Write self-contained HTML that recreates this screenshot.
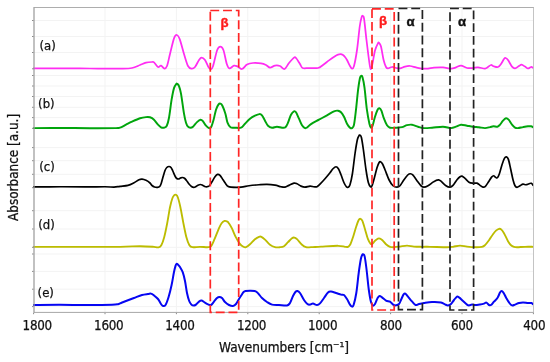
<!DOCTYPE html>
<html><head><meta charset="utf-8"><title>FTIR spectra</title>
<style>
html,body{margin:0;padding:0;background:#fff;}
body{width:550px;height:362px;position:relative;overflow:hidden;font-family:"DejaVu Sans Condensed","Liberation Sans",sans-serif;color:#111;}
.t{position:absolute;white-space:nowrap;line-height:1;-webkit-text-stroke:0.25px #111;}
.xl{font-size:13.3px;letter-spacing:-0.3px;}
.sl{font-size:13px;}
.gk{font-family:"Liberation Sans",sans-serif;font-weight:bold;font-size:13.2px;-webkit-text-stroke:0.4px currentColor;}
.ti{font-size:13.5px;}
.yr{font-size:13.4px;transform-origin:0 0;transform:rotate(-90deg);}
</style></head><body>
<svg width="550" height="362" viewBox="0 0 550 362" style="position:absolute;left:0;top:0">
<path d="M34.0 20.5H533.5M34.0 36.5H533.5M34.0 52.5H533.5M34.0 68.8H533.5M34.0 128.3H533.5M34.0 187.7H533.5M34.0 247.3H533.5M34.0 75.5H533.5M34.0 86.0H533.5M34.0 96.5H533.5M34.0 107.3H533.5M34.0 117.6H533.5M34.0 147.6H533.5M34.0 160.7H533.5M34.0 174.3H533.5M34.0 210.7H533.5M34.0 229.0H533.5M34.0 254.0H533.5M34.0 271.4H533.5M34.0 289.2H533.5M34.0 306.6H533.5M105.0 7.5V312.4M176.4 7.5V312.4M247.8 7.5V312.4M319.2 7.5V312.4M390.6 7.5V312.4M462.0 7.5V312.4" stroke="#f3f3f3" stroke-width="1" fill="none"/>
<path d="M33.00 68.40C37.50 68.38 50.50 68.28 60.00 68.30C69.50 68.32 80.00 68.45 90.00 68.50C100.00 68.55 113.00 68.68 120.00 68.60C127.00 68.52 128.67 68.60 132.00 68.00C135.33 67.40 137.67 65.90 140.00 65.00C142.33 64.10 144.00 63.10 146.00 62.60C148.00 62.10 150.67 62.03 152.00 62.00C153.33 61.97 153.00 61.57 154.00 62.40C155.00 63.23 156.83 66.47 158.00 67.00C159.17 67.53 159.93 65.33 161.00 65.60C162.07 65.87 163.40 68.53 164.40 68.60C165.40 68.67 166.07 68.43 167.00 66.00C167.93 63.57 168.83 58.60 170.00 54.00C171.17 49.40 172.87 41.57 174.00 38.40C175.13 35.23 175.83 34.83 176.80 35.00C177.77 35.17 178.60 36.23 179.80 39.40C181.00 42.57 182.63 49.57 184.00 54.00C185.37 58.43 186.73 63.57 188.00 66.00C189.27 68.43 190.43 68.43 191.60 68.60C192.77 68.77 193.77 68.43 195.00 67.00C196.23 65.57 197.90 61.57 199.00 60.00C200.10 58.43 200.60 57.60 201.60 57.60C202.60 57.60 203.83 58.37 205.00 60.00C206.17 61.63 207.63 65.85 208.60 67.40C209.57 68.95 210.07 69.50 210.80 69.30C211.53 69.10 211.93 69.42 213.00 66.20C214.07 62.98 215.97 53.27 217.20 50.00C218.43 46.73 219.37 46.60 220.40 46.60C221.43 46.60 222.33 47.10 223.40 50.00C224.47 52.90 225.80 60.93 226.80 64.00C227.80 67.07 228.20 68.13 229.40 68.40C230.60 68.67 232.67 65.93 234.00 65.60C235.33 65.27 236.07 65.83 237.40 66.40C238.73 66.97 240.40 69.30 242.00 69.00C243.60 68.70 245.17 65.60 247.00 64.60C248.83 63.60 250.67 63.20 253.00 63.00C255.33 62.80 258.83 63.07 261.00 63.40C263.17 63.73 264.50 64.30 266.00 65.00C267.50 65.70 268.50 67.50 270.00 67.60C271.50 67.70 273.33 65.87 275.00 65.60C276.67 65.33 278.40 65.43 280.00 66.00C281.60 66.57 283.10 69.50 284.60 69.00C286.10 68.50 287.43 64.90 289.00 63.00C290.57 61.10 292.83 58.43 294.00 57.60C295.17 56.77 295.00 56.93 296.00 58.00C297.00 59.07 298.90 62.33 300.00 64.00C301.10 65.67 301.10 67.33 302.60 68.00C304.10 68.67 306.43 68.00 309.00 68.00C311.57 68.00 315.67 68.50 318.00 68.00C320.33 67.50 321.17 66.27 323.00 65.00C324.83 63.73 327.00 61.87 329.00 60.40C331.00 58.93 333.50 57.17 335.00 56.20C336.50 55.23 337.08 54.95 338.00 54.60C338.92 54.25 339.67 54.03 340.50 54.10C341.33 54.17 342.25 54.52 343.00 55.00C343.75 55.48 344.33 56.17 345.00 57.00C345.67 57.83 346.17 58.50 347.00 60.00C347.83 61.50 349.17 64.57 350.00 66.00C350.83 67.43 351.33 68.60 352.00 68.60C352.67 68.60 353.17 69.10 354.00 66.00C354.83 62.90 356.03 56.67 357.00 50.00C357.97 43.33 359.02 31.50 359.80 26.00C360.58 20.50 361.22 18.67 361.70 17.00C362.18 15.33 362.30 15.67 362.70 16.00C363.10 16.33 363.47 15.00 364.10 19.00C364.73 23.00 365.68 33.17 366.50 40.00C367.32 46.83 368.32 55.17 369.00 60.00C369.68 64.83 370.03 68.33 370.60 69.00C371.17 69.67 371.67 67.10 372.40 64.00C373.13 60.90 374.07 53.87 375.00 50.40C375.93 46.93 377.33 44.47 378.00 43.20C378.67 41.93 378.50 42.23 379.00 42.80C379.50 43.37 380.23 43.73 381.00 46.60C381.77 49.47 382.77 56.60 383.60 60.00C384.43 63.40 385.27 65.60 386.00 67.00C386.73 68.40 387.00 68.40 388.00 68.40C389.00 68.40 390.67 67.07 392.00 67.00C393.33 66.93 394.67 67.77 396.00 68.00C397.33 68.23 398.50 68.63 400.00 68.40C401.50 68.17 403.33 67.00 405.00 66.60C406.67 66.20 408.17 65.87 410.00 66.00C411.83 66.13 414.00 66.97 416.00 67.40C418.00 67.83 420.00 68.40 422.00 68.60C424.00 68.80 426.00 68.77 428.00 68.60C430.00 68.43 431.50 67.80 434.00 67.60C436.50 67.40 440.17 67.23 443.00 67.40C445.83 67.57 448.83 68.60 451.00 68.60C453.17 68.60 454.33 67.90 456.00 67.40C457.67 66.90 459.17 65.50 461.00 65.60C462.83 65.70 465.00 67.60 467.00 68.00C469.00 68.40 471.17 68.10 473.00 68.00C474.83 67.90 476.00 67.30 478.00 67.40C480.00 67.50 483.33 68.67 485.00 68.60C486.67 68.53 487.00 67.60 488.00 67.00C489.00 66.40 490.00 65.10 491.00 65.00C492.00 64.90 492.83 66.07 494.00 66.40C495.17 66.73 496.83 67.40 498.00 67.00C499.17 66.60 500.00 65.33 501.00 64.00C502.00 62.67 503.23 60.00 504.00 59.00C504.77 58.00 504.93 57.83 505.60 58.00C506.27 58.17 506.93 58.57 508.00 60.00C509.07 61.43 510.83 65.20 512.00 66.60C513.17 68.00 513.83 68.50 515.00 68.40C516.17 68.30 517.90 66.63 519.00 66.00C520.10 65.37 520.60 64.50 521.60 64.60C522.60 64.70 523.93 65.97 525.00 66.60C526.07 67.23 527.00 68.33 528.00 68.40C529.00 68.47 530.10 67.07 531.00 67.00C531.90 66.93 533.00 67.83 533.40 68.00" stroke="#ff2cf2" stroke-width="1.75" fill="none" stroke-linejoin="round" stroke-linecap="butt"/>
<path d="M33.00 128.10C37.50 128.08 50.50 127.98 60.00 128.00C69.50 128.02 80.67 128.18 90.00 128.20C99.33 128.22 111.00 128.18 116.00 128.10C121.00 128.02 118.33 128.27 120.00 127.70C121.67 127.13 124.00 125.70 126.00 124.70C128.00 123.70 129.67 122.77 132.00 121.70C134.33 120.63 137.67 119.07 140.00 118.30C142.33 117.53 144.33 117.27 146.00 117.10C147.67 116.93 148.67 116.87 150.00 117.30C151.33 117.73 152.67 118.47 154.00 119.70C155.33 120.93 156.83 123.43 158.00 124.70C159.17 125.97 160.00 126.80 161.00 127.30C162.00 127.80 163.03 127.97 164.00 127.70C164.97 127.43 165.97 127.37 166.80 125.70C167.63 124.03 168.20 122.03 169.00 117.70C169.80 113.37 170.77 104.63 171.60 99.70C172.43 94.77 173.23 90.70 174.00 88.10C174.77 85.50 175.68 84.82 176.20 84.10C176.72 83.38 176.63 83.47 177.10 83.80C177.57 84.13 178.35 84.45 179.00 86.10C179.65 87.75 180.17 89.10 181.00 93.70C181.83 98.30 183.17 108.87 184.00 113.70C184.83 118.53 185.33 120.53 186.00 122.70C186.67 124.87 187.27 125.87 188.00 126.70C188.73 127.53 189.57 127.70 190.40 127.70C191.23 127.70 191.90 127.63 193.00 126.70C194.10 125.77 195.73 123.27 197.00 122.10C198.27 120.93 199.60 119.83 200.60 119.70C201.60 119.57 202.10 120.30 203.00 121.30C203.90 122.30 205.00 124.57 206.00 125.70C207.00 126.83 208.17 127.83 209.00 128.10C209.83 128.37 210.23 128.70 211.00 127.30C211.77 125.90 212.77 122.63 213.60 119.70C214.43 116.77 215.20 112.22 216.00 109.70C216.80 107.18 217.67 105.62 218.40 104.60C219.13 103.58 219.73 103.42 220.40 103.60C221.07 103.78 221.57 104.02 222.40 105.70C223.23 107.38 224.55 110.87 225.40 113.70C226.25 116.53 226.65 120.43 227.50 122.70C228.35 124.97 229.25 126.47 230.50 127.30C231.75 128.13 233.25 127.63 235.00 127.70C236.75 127.77 239.33 128.37 241.00 127.70C242.67 127.03 243.50 125.20 245.00 123.70C246.50 122.20 248.33 120.03 250.00 118.70C251.67 117.37 253.43 116.47 255.00 115.70C256.57 114.93 258.23 114.17 259.40 114.10C260.57 114.03 261.07 114.20 262.00 115.30C262.93 116.40 264.00 118.97 265.00 120.70C266.00 122.43 266.83 124.53 268.00 125.70C269.17 126.87 270.50 127.53 272.00 127.70C273.50 127.87 275.33 126.70 277.00 126.70C278.67 126.70 280.60 127.60 282.00 127.70C283.40 127.80 284.40 128.13 285.40 127.30C286.40 126.47 287.07 124.80 288.00 122.70C288.93 120.60 290.00 116.60 291.00 114.70C292.00 112.80 293.17 111.70 294.00 111.30C294.83 110.90 295.17 111.07 296.00 112.30C296.83 113.53 298.00 116.53 299.00 118.70C300.00 120.87 301.00 123.73 302.00 125.30C303.00 126.87 304.10 127.77 305.00 128.10C305.90 128.43 306.40 127.97 307.40 127.30C308.40 126.63 309.07 125.37 311.00 124.10C312.93 122.83 316.33 121.17 319.00 119.70C321.67 118.23 324.50 116.70 327.00 115.30C329.50 113.90 332.17 112.07 334.00 111.30C335.83 110.53 336.83 110.53 338.00 110.70C339.17 110.87 340.00 111.30 341.00 112.30C342.00 113.30 343.00 114.80 344.00 116.70C345.00 118.60 346.00 121.87 347.00 123.70C348.00 125.53 349.17 126.97 350.00 127.70C350.83 128.43 351.33 128.60 352.00 128.10C352.67 127.60 353.33 127.77 354.00 124.70C354.67 121.63 355.32 115.53 356.00 109.70C356.68 103.87 357.45 94.93 358.10 89.70C358.75 84.47 359.40 80.58 359.90 78.30C360.40 76.02 360.67 76.17 361.10 76.00C361.53 75.83 361.93 75.35 362.50 77.30C363.07 79.25 363.77 82.30 364.50 87.70C365.23 93.10 366.08 103.70 366.90 109.70C367.72 115.70 368.72 120.70 369.40 123.70C370.08 126.70 370.47 127.37 371.00 127.70C371.53 128.03 371.93 127.53 372.60 125.70C373.27 123.87 374.17 119.37 375.00 116.70C375.83 114.03 376.87 111.10 377.60 109.70C378.33 108.30 378.77 108.13 379.40 108.30C380.03 108.47 380.63 108.97 381.40 110.70C382.17 112.43 383.07 116.27 384.00 118.70C384.93 121.13 386.00 123.80 387.00 125.30C388.00 126.80 388.50 127.30 390.00 127.70C391.50 128.10 394.00 127.80 396.00 127.70C398.00 127.60 400.17 127.53 402.00 127.10C403.83 126.67 405.33 125.50 407.00 125.10C408.67 124.70 410.17 124.43 412.00 124.70C413.83 124.97 416.00 126.13 418.00 126.70C420.00 127.27 421.67 127.93 424.00 128.10C426.33 128.27 428.83 127.93 432.00 127.70C435.17 127.47 439.83 126.63 443.00 126.70C446.17 126.77 448.83 128.10 451.00 128.10C453.17 128.10 454.33 127.27 456.00 126.70C457.67 126.13 459.17 124.87 461.00 124.70C462.83 124.53 465.00 125.37 467.00 125.70C469.00 126.03 471.00 126.43 473.00 126.70C475.00 126.97 477.00 127.07 479.00 127.30C481.00 127.53 483.17 128.13 485.00 128.10C486.83 128.07 488.60 127.40 490.00 127.10C491.40 126.80 492.17 126.37 493.40 126.30C494.63 126.23 496.30 126.97 497.40 126.70C498.50 126.43 499.07 125.70 500.00 124.70C500.93 123.70 502.00 121.77 503.00 120.70C504.00 119.63 505.07 118.47 506.00 118.30C506.93 118.13 507.60 118.63 508.60 119.70C509.60 120.77 510.93 123.37 512.00 124.70C513.07 126.03 514.00 127.13 515.00 127.70C516.00 128.27 516.67 128.20 518.00 128.10C519.33 128.00 521.33 127.40 523.00 127.10C524.67 126.80 526.67 126.43 528.00 126.30C529.33 126.17 530.10 126.13 531.00 126.30C531.90 126.47 533.00 127.13 533.40 127.30" stroke="#00a50c" stroke-width="1.95" fill="none" stroke-linejoin="round" stroke-linecap="butt"/>
<path d="M33.00 186.95C37.50 186.92 51.33 186.75 60.00 186.75C68.67 186.75 77.50 186.95 85.00 186.95C92.50 186.95 100.17 186.72 105.00 186.75C109.83 186.78 111.50 187.22 114.00 187.15C116.50 187.08 117.67 186.65 120.00 186.35C122.33 186.05 125.67 185.95 128.00 185.35C130.33 184.75 132.17 183.68 134.00 182.75C135.83 181.82 137.67 180.35 139.00 179.75C140.33 179.15 140.83 179.05 142.00 179.15C143.17 179.25 144.67 179.71 146.00 180.35C147.33 180.99 149.00 182.14 150.00 183.00C151.00 183.86 151.25 184.83 152.00 185.50C152.75 186.17 153.58 186.70 154.50 187.00C155.42 187.30 156.63 187.38 157.50 187.30C158.37 187.22 159.08 187.13 159.70 186.50C160.32 185.87 160.65 185.08 161.20 183.50C161.75 181.92 162.37 179.17 163.00 177.00C163.63 174.83 164.37 172.08 165.00 170.50C165.63 168.92 166.13 168.17 166.80 167.50C167.47 166.83 168.30 166.50 169.00 166.50C169.70 166.50 170.37 166.75 171.00 167.50C171.63 168.25 172.13 169.58 172.80 171.00C173.47 172.42 174.33 174.75 175.00 176.00C175.67 177.25 176.22 178.00 176.80 178.50C177.38 179.00 177.88 179.08 178.50 179.00C179.12 178.92 179.83 178.25 180.50 178.00C181.17 177.75 181.83 177.45 182.50 177.50C183.17 177.55 183.83 177.80 184.50 178.30C185.17 178.80 185.75 179.55 186.50 180.50C187.25 181.45 188.17 183.00 189.00 184.00C189.83 185.00 190.70 185.95 191.50 186.50C192.30 187.05 193.05 187.30 193.80 187.30C194.55 187.30 195.30 186.85 196.00 186.50C196.70 186.15 197.28 185.53 198.00 185.20C198.72 184.87 199.55 184.50 200.30 184.50C201.05 184.50 201.75 184.87 202.50 185.20C203.25 185.53 204.05 186.24 204.80 186.50C205.55 186.76 206.23 186.88 207.00 186.75C207.77 186.62 208.57 186.58 209.40 185.75C210.23 184.92 211.07 183.25 212.00 181.75C212.93 180.25 214.07 177.98 215.00 176.75C215.93 175.52 216.77 174.58 217.60 174.35C218.43 174.12 219.10 174.45 220.00 175.35C220.90 176.25 222.00 178.28 223.00 179.75C224.00 181.22 225.17 183.05 226.00 184.15C226.83 185.25 227.17 185.85 228.00 186.35C228.83 186.85 228.83 187.02 231.00 187.15C233.17 187.28 238.00 187.38 241.00 187.15C244.00 186.92 246.00 186.15 249.00 185.75C252.00 185.35 256.00 184.98 259.00 184.75C262.00 184.52 264.33 184.28 267.00 184.35C269.67 184.42 272.67 184.75 275.00 185.15C277.33 185.55 279.33 186.42 281.00 186.75C282.67 187.08 283.67 187.38 285.00 187.15C286.33 186.92 287.50 186.02 289.00 185.35C290.50 184.68 292.67 183.42 294.00 183.15C295.33 182.88 295.83 183.25 297.00 183.75C298.17 184.25 299.67 185.58 301.00 186.15C302.33 186.72 303.50 187.15 305.00 187.15C306.50 187.15 308.50 186.22 310.00 186.15C311.50 186.08 312.83 186.65 314.00 186.75C315.17 186.85 316.00 187.18 317.00 186.75C318.00 186.32 318.67 185.48 320.00 184.15C321.33 182.82 323.33 180.65 325.00 178.75C326.67 176.85 328.67 174.42 330.00 172.75C331.33 171.08 332.00 169.75 333.00 168.75C334.00 167.75 335.10 166.75 336.00 166.75C336.90 166.75 337.57 167.42 338.40 168.75C339.23 170.08 340.07 172.42 341.00 174.75C341.93 177.08 343.10 180.75 344.00 182.75C344.90 184.75 345.73 185.98 346.40 186.75C347.07 187.52 347.40 187.68 348.00 187.35C348.60 187.02 349.27 187.02 350.00 184.75C350.73 182.48 351.57 178.92 352.40 173.75C353.23 168.58 354.17 159.45 355.00 153.75C355.83 148.05 356.73 142.55 357.40 139.55C358.07 136.55 358.57 136.48 359.00 135.75C359.43 135.02 359.60 134.85 360.00 135.15C360.40 135.45 360.83 135.12 361.40 137.55C361.97 139.98 362.63 144.38 363.40 149.75C364.17 155.12 365.17 164.25 366.00 169.75C366.83 175.25 367.63 179.92 368.40 182.75C369.17 185.58 370.00 186.25 370.60 186.75C371.20 187.25 371.37 187.25 372.00 185.75C372.63 184.25 373.57 180.75 374.40 177.75C375.23 174.75 376.23 170.25 377.00 167.75C377.77 165.25 378.43 163.75 379.00 162.75C379.57 161.75 379.83 161.58 380.40 161.75C380.97 161.92 381.63 162.42 382.40 163.75C383.17 165.08 383.90 167.08 385.00 169.75C386.10 172.42 387.67 177.08 389.00 179.75C390.33 182.42 391.67 184.52 393.00 185.75C394.33 186.98 395.83 187.15 397.00 187.15C398.17 187.15 398.83 186.98 400.00 185.75C401.17 184.52 402.67 181.58 404.00 179.75C405.33 177.92 406.93 175.75 408.00 174.75C409.07 173.75 409.57 173.68 410.40 173.75C411.23 173.82 411.90 173.98 413.00 175.15C414.10 176.32 415.67 178.98 417.00 180.75C418.33 182.52 419.83 184.68 421.00 185.75C422.17 186.82 422.83 187.15 424.00 187.15C425.17 187.15 426.50 186.58 428.00 185.75C429.50 184.92 431.67 183.03 433.00 182.15C434.33 181.27 435.08 180.83 436.00 180.45C436.92 180.07 437.67 179.73 438.50 179.85C439.33 179.97 439.75 180.17 441.00 181.15C442.25 182.13 444.50 184.75 446.00 185.75C447.50 186.75 448.83 187.22 450.00 187.15C451.17 187.08 451.83 186.58 453.00 185.35C454.17 184.12 455.83 181.18 457.00 179.75C458.17 178.32 459.17 177.35 460.00 176.75C460.83 176.15 461.17 175.88 462.00 176.15C462.83 176.42 463.83 177.35 465.00 178.35C466.17 179.35 467.67 181.35 469.00 182.15C470.33 182.95 471.67 182.98 473.00 183.15C474.33 183.32 475.83 182.78 477.00 183.15C478.17 183.52 479.00 184.68 480.00 185.35C481.00 186.02 482.10 186.98 483.00 187.15C483.90 187.32 484.47 187.25 485.40 186.35C486.33 185.45 487.57 183.28 488.60 181.75C489.63 180.22 490.77 178.15 491.60 177.15C492.43 176.15 492.93 175.72 493.60 175.75C494.27 175.78 494.97 177.02 495.60 177.35C496.23 177.68 496.77 178.35 497.40 177.75C498.03 177.15 498.63 175.92 499.40 173.75C500.17 171.58 501.17 167.30 502.00 164.75C502.83 162.20 503.67 159.77 504.40 158.45C505.13 157.13 505.73 156.70 506.40 156.85C507.07 157.00 507.70 157.37 508.40 159.35C509.10 161.33 509.83 165.35 510.60 168.75C511.37 172.15 512.27 176.92 513.00 179.75C513.73 182.58 514.33 184.48 515.00 185.75C515.67 187.02 516.17 187.35 517.00 187.35C517.83 187.35 519.00 186.28 520.00 185.75C521.00 185.22 522.00 184.32 523.00 184.15C524.00 183.98 525.00 184.82 526.00 184.75C527.00 184.68 528.10 183.98 529.00 183.75C529.90 183.52 530.67 183.02 531.40 183.35C532.13 183.68 533.07 185.35 533.40 185.75" stroke="#000000" stroke-width="1.7" fill="none" stroke-linejoin="round" stroke-linecap="butt"/>
<path d="M33.00 246.80C40.83 246.80 65.50 246.80 80.00 246.80C94.50 246.80 110.00 246.90 120.00 246.80C130.00 246.70 134.33 246.20 140.00 246.20C145.67 246.20 150.92 246.60 154.00 246.80C157.08 247.00 157.28 247.67 158.50 247.40C159.72 247.13 160.35 246.90 161.30 245.20C162.25 243.50 163.22 240.87 164.20 237.20C165.18 233.53 166.23 228.20 167.20 223.20C168.17 218.20 169.13 211.37 170.00 207.20C170.87 203.03 171.68 200.20 172.40 198.20C173.12 196.20 173.73 195.77 174.30 195.20C174.87 194.63 175.22 194.47 175.80 194.80C176.38 195.13 177.03 195.13 177.80 197.20C178.57 199.27 179.47 202.87 180.40 207.20C181.33 211.53 182.40 218.20 183.40 223.20C184.40 228.20 185.40 233.53 186.40 237.20C187.40 240.87 188.40 243.53 189.40 245.20C190.40 246.87 190.63 246.93 192.40 247.20C194.17 247.47 197.40 246.80 200.00 246.80C202.60 246.80 206.12 247.37 208.00 247.20C209.88 247.03 210.22 247.13 211.30 245.80C212.38 244.47 213.28 241.97 214.50 239.20C215.72 236.43 217.42 231.87 218.60 229.20C219.78 226.53 220.60 224.58 221.60 223.20C222.60 221.82 223.63 221.17 224.60 220.90C225.57 220.63 226.70 221.22 227.40 221.60C228.10 221.98 228.07 222.10 228.80 223.20C229.53 224.30 230.63 225.87 231.80 228.20C232.97 230.53 234.48 234.63 235.80 237.20C237.12 239.77 238.43 242.00 239.70 243.60C240.97 245.20 242.35 246.20 243.40 246.80C244.45 247.40 244.90 247.63 246.00 247.20C247.10 246.77 248.50 245.53 250.00 244.20C251.50 242.87 253.50 240.43 255.00 239.20C256.50 237.97 257.93 237.20 259.00 236.80C260.07 236.40 260.40 236.33 261.40 236.80C262.40 237.27 263.57 238.27 265.00 239.60C266.43 240.93 268.33 243.53 270.00 244.80C271.67 246.07 273.33 246.80 275.00 247.20C276.67 247.60 278.50 247.37 280.00 247.20C281.50 247.03 282.67 247.03 284.00 246.20C285.33 245.37 286.67 243.53 288.00 242.20C289.33 240.87 290.93 238.97 292.00 238.20C293.07 237.43 293.57 237.43 294.40 237.60C295.23 237.77 295.73 238.00 297.00 239.20C298.27 240.40 300.50 243.47 302.00 244.80C303.50 246.13 304.50 246.80 306.00 247.20C307.50 247.60 308.50 247.30 311.00 247.20C313.50 247.10 316.50 246.83 321.00 246.60C325.50 246.37 334.00 245.77 338.00 245.80C342.00 245.83 343.33 246.63 345.00 246.80C346.67 246.97 347.10 247.23 348.00 246.80C348.90 246.37 349.57 245.80 350.40 244.20C351.23 242.60 352.07 240.03 353.00 237.20C353.93 234.37 355.07 230.03 356.00 227.20C356.93 224.37 357.87 221.60 358.60 220.20C359.33 218.80 359.77 218.70 360.40 218.80C361.03 218.90 361.63 219.07 362.40 220.80C363.17 222.53 364.07 226.13 365.00 229.20C365.93 232.27 367.07 236.77 368.00 239.20C368.93 241.63 369.87 243.03 370.60 243.80C371.33 244.57 371.67 244.30 372.40 243.80C373.13 243.30 374.07 241.67 375.00 240.80C375.93 239.93 377.17 238.97 378.00 238.60C378.83 238.23 379.27 238.33 380.00 238.60C380.73 238.87 381.40 239.27 382.40 240.20C383.40 241.13 384.73 243.10 386.00 244.20C387.27 245.30 388.67 246.30 390.00 246.80C391.33 247.30 392.33 247.23 394.00 247.20C395.67 247.17 397.83 246.87 400.00 246.60C402.17 246.33 404.67 245.60 407.00 245.60C409.33 245.60 411.50 246.40 414.00 246.60C416.50 246.80 419.33 246.77 422.00 246.80C424.67 246.83 425.83 246.73 430.00 246.80C434.17 246.87 443.17 247.20 447.00 247.20C450.83 247.20 450.83 247.07 453.00 246.80C455.17 246.53 457.67 245.63 460.00 245.60C462.33 245.57 464.50 246.33 467.00 246.60C469.50 246.87 472.50 247.17 475.00 247.20C477.50 247.23 480.33 247.13 482.00 246.80C483.67 246.47 483.83 246.30 485.00 245.20C486.17 244.10 487.67 242.03 489.00 240.20C490.33 238.37 491.83 235.80 493.00 234.20C494.17 232.60 495.00 231.50 496.00 230.60C497.00 229.70 498.10 228.97 499.00 228.80C499.90 228.63 500.57 228.87 501.40 229.60C502.23 230.33 502.90 231.27 504.00 233.20C505.10 235.13 506.83 239.20 508.00 241.20C509.17 243.20 510.00 244.27 511.00 245.20C512.00 246.13 513.00 246.47 514.00 246.80C515.00 247.13 515.17 247.20 517.00 247.20C518.83 247.20 522.27 246.87 525.00 246.80C527.73 246.73 532.00 246.80 533.40 246.80" stroke="#bcbc00" stroke-width="1.85" fill="none" stroke-linejoin="round" stroke-linecap="butt"/>
<path d="M33.00 305.00C37.50 304.97 50.50 304.78 60.00 304.80C69.50 304.82 81.33 305.10 90.00 305.10C98.67 305.10 107.33 304.95 112.00 304.80C116.67 304.65 116.67 304.43 118.00 304.20C119.33 303.97 118.67 303.93 120.00 303.40C121.33 302.87 123.67 301.90 126.00 301.00C128.33 300.10 131.33 299.00 134.00 298.00C136.67 297.00 139.67 295.67 142.00 295.00C144.33 294.33 146.50 294.23 148.00 294.00C149.50 293.77 150.00 293.37 151.00 293.60C152.00 293.83 152.83 294.50 154.00 295.40C155.17 296.30 156.83 297.57 158.00 299.00C159.17 300.43 160.17 302.83 161.00 304.00C161.83 305.17 162.25 305.83 163.00 306.00C163.75 306.17 164.57 306.50 165.50 305.00C166.43 303.50 167.58 300.33 168.60 297.00C169.62 293.67 170.70 289.17 171.60 285.00C172.50 280.83 173.33 275.23 174.00 272.00C174.67 268.77 175.17 266.97 175.60 265.60C176.03 264.23 176.20 263.97 176.60 263.80C177.00 263.63 177.43 264.07 178.00 264.60C178.57 265.13 179.20 265.70 180.00 267.00C180.80 268.30 181.97 270.07 182.80 272.40C183.63 274.73 184.30 277.57 185.00 281.00C185.70 284.43 186.30 289.67 187.00 293.00C187.70 296.33 188.47 299.07 189.20 301.00C189.93 302.93 190.67 303.83 191.40 304.60C192.13 305.37 192.83 305.60 193.60 305.60C194.37 305.60 195.10 305.27 196.00 304.60C196.90 303.93 198.07 302.27 199.00 301.60C199.93 300.93 200.77 300.53 201.60 300.60C202.43 300.67 202.93 301.37 204.00 302.00C205.07 302.63 206.83 303.90 208.00 304.40C209.17 304.90 210.00 305.47 211.00 305.00C212.00 304.53 213.00 302.77 214.00 301.60C215.00 300.43 216.10 298.77 217.00 298.00C217.90 297.23 218.57 297.00 219.40 297.00C220.23 297.00 221.07 297.17 222.00 298.00C222.93 298.83 223.83 300.83 225.00 302.00C226.17 303.17 227.67 304.33 229.00 305.00C230.33 305.67 231.83 306.17 233.00 306.00C234.17 305.83 235.00 305.17 236.00 304.00C237.00 302.83 238.07 300.50 239.00 299.00C239.93 297.50 240.83 296.17 241.60 295.00C242.37 293.83 242.93 292.67 243.60 292.00C244.27 291.33 244.53 291.20 245.60 291.00C246.67 290.80 248.52 290.80 250.00 290.80C251.48 290.80 253.33 290.77 254.50 291.00C255.67 291.23 256.25 291.63 257.00 292.20C257.75 292.77 258.17 293.43 259.00 294.40C259.83 295.37 260.67 296.73 262.00 298.00C263.33 299.27 265.33 300.90 267.00 302.00C268.67 303.10 270.00 304.10 272.00 304.60C274.00 305.10 276.50 304.87 279.00 305.00C281.50 305.13 285.17 305.73 287.00 305.40C288.83 305.07 289.00 304.57 290.00 303.00C291.00 301.43 292.10 297.83 293.00 296.00C293.90 294.17 294.67 292.83 295.40 292.00C296.13 291.17 296.63 290.83 297.40 291.00C298.17 291.17 298.90 291.50 300.00 293.00C301.10 294.50 302.77 298.17 304.00 300.00C305.23 301.83 306.40 303.23 307.40 304.00C308.40 304.77 309.07 304.67 310.00 304.60C310.93 304.53 311.83 303.53 313.00 303.60C314.17 303.67 315.83 305.03 317.00 305.00C318.17 304.97 318.83 304.57 320.00 303.40C321.17 302.23 322.67 299.83 324.00 298.00C325.33 296.17 326.83 293.47 328.00 292.40C329.17 291.33 329.67 291.50 331.00 291.60C332.33 291.70 334.33 292.50 336.00 293.00C337.67 293.50 339.67 294.27 341.00 294.60C342.33 294.93 343.00 294.27 344.00 295.00C345.00 295.73 346.00 297.40 347.00 299.00C348.00 300.60 349.17 303.33 350.00 304.60C350.83 305.87 351.40 306.53 352.00 306.60C352.60 306.67 352.88 307.27 353.60 305.00C354.32 302.73 355.45 298.33 356.30 293.00C357.15 287.67 357.93 278.70 358.70 273.00C359.47 267.30 360.30 261.83 360.90 258.80C361.50 255.77 361.88 255.53 362.30 254.80C362.72 254.07 363.00 254.10 363.40 254.40C363.80 254.70 364.18 254.17 364.70 256.60C365.22 259.03 365.83 263.60 366.50 269.00C367.17 274.40 367.95 283.50 368.70 289.00C369.45 294.50 370.28 299.23 371.00 302.00C371.72 304.77 372.33 305.27 373.00 305.60C373.67 305.93 374.23 305.27 375.00 304.00C375.77 302.73 376.83 299.33 377.60 298.00C378.37 296.67 378.87 296.10 379.60 296.00C380.33 295.90 380.93 296.63 382.00 297.40C383.07 298.17 384.67 299.90 386.00 300.60C387.33 301.30 388.93 301.03 390.00 301.60C391.07 302.17 391.57 303.37 392.40 304.00C393.23 304.63 393.90 305.40 395.00 305.40C396.10 305.40 397.93 305.07 399.00 304.00C400.07 302.93 400.63 300.60 401.40 299.00C402.17 297.40 402.93 295.30 403.60 294.40C404.27 293.50 404.67 293.23 405.40 293.60C406.13 293.97 406.90 295.30 408.00 296.60C409.10 297.90 410.73 300.00 412.00 301.40C413.27 302.80 414.43 304.57 415.60 305.00C416.77 305.43 417.60 304.33 419.00 304.00C420.40 303.67 421.83 303.33 424.00 303.00C426.17 302.67 429.17 302.10 432.00 302.00C434.83 301.90 438.83 302.00 441.00 302.40C443.17 302.80 443.83 303.90 445.00 304.40C446.17 304.90 447.00 305.47 448.00 305.40C449.00 305.33 450.00 304.90 451.00 304.00C452.00 303.10 453.00 301.23 454.00 300.00C455.00 298.77 456.17 297.03 457.00 296.60C457.83 296.17 458.00 296.67 459.00 297.40C460.00 298.13 461.67 299.80 463.00 301.00C464.33 302.20 466.00 303.87 467.00 304.60C468.00 305.33 468.17 305.40 469.00 305.40C469.83 305.40 471.00 304.67 472.00 304.60C473.00 304.53 473.67 305.03 475.00 305.00C476.33 304.97 478.50 304.63 480.00 304.40C481.50 304.17 482.93 303.90 484.00 303.60C485.07 303.30 485.57 302.37 486.40 302.60C487.23 302.83 488.23 304.60 489.00 305.00C489.77 305.40 490.17 305.57 491.00 305.00C491.83 304.43 492.93 302.77 494.00 301.60C495.07 300.43 496.40 299.50 497.40 298.00C498.40 296.50 499.30 293.77 500.00 292.60C500.70 291.43 501.03 291.00 501.60 291.00C502.17 291.00 502.67 291.53 503.40 292.60C504.13 293.67 505.00 295.67 506.00 297.40C507.00 299.13 508.40 301.67 509.40 303.00C510.40 304.33 511.07 305.13 512.00 305.40C512.93 305.67 513.83 305.00 515.00 304.60C516.17 304.20 517.67 303.37 519.00 303.00C520.33 302.63 521.50 302.40 523.00 302.40C524.50 302.40 526.60 302.90 528.00 303.00C529.40 303.10 530.50 302.73 531.40 303.00C532.30 303.27 533.07 304.33 533.40 304.60" stroke="#0606f2" stroke-width="2.0" fill="none" stroke-linejoin="round" stroke-linecap="butt"/>
<path d="M33.5 7.5H534.0" stroke="#adadad" stroke-width="1" fill="none"/>
<path d="M33.5 312.4H534.0" stroke="#a6a6a6" stroke-width="1" fill="none"/>
<path d="M533.5 7.5V312.4" stroke="#bdbdbd" stroke-width="0.9" fill="none"/>
<path d="M34.0 7.5V312.4" stroke="#9c9c9c" stroke-width="1.25" fill="none"/>
<path d="M32.0 20.5H33.5M32.0 36.5H33.5M32.0 52.5H33.5M32.0 68.8H33.5M32.0 128.3H33.5M32.0 187.7H33.5M32.0 247.3H33.5M32.0 75.5H33.5M32.0 86.0H33.5M32.0 96.5H33.5M32.0 107.3H33.5M32.0 117.6H33.5M32.0 147.6H33.5M32.0 160.7H33.5M32.0 174.3H33.5M32.0 210.7H33.5M32.0 229.0H33.5M32.0 254.0H33.5M32.0 271.4H33.5M32.0 289.2H33.5M32.0 306.6H33.5M33.6 312.9V314.2M105.0 312.9V314.2M176.4 312.9V314.2M247.8 312.9V314.2M319.2 312.9V314.2M390.6 312.9V314.2M462.0 312.9V314.2M533.4 312.9V314.2" stroke="#8a8a8a" stroke-width="1" fill="none"/>
<path d="M210.3 10.5H238.7V312.3H210.3Z" stroke="#ff2626" stroke-width="1.7" fill="none" stroke-dasharray="8.9 3.85"/>
<path d="M372.0 8.8H394.2V310.0H372.0Z" stroke="#ff2626" stroke-width="1.7" fill="none" stroke-dasharray="8.9 3.85"/>
<path d="M398.5 8.5H422.4V309.6H398.5Z" stroke="#222" stroke-width="1.7" fill="none" stroke-dasharray="8.9 3.85"/>
<path d="M450.0 8.5H473.6V310.0H450.0Z" stroke="#222" stroke-width="1.7" fill="none" stroke-dasharray="8.9 3.85"/>
</svg>
<div class="t xl" id="x1800" style="left:22.60px;top:319.00px;">1800</div>
<div class="t xl" id="x1600" style="left:94.10px;top:319.00px;">1600</div>
<div class="t xl" id="x1400" style="left:165.30px;top:319.00px;">1400</div>
<div class="t xl" id="x1200" style="left:236.90px;top:319.00px;">1200</div>
<div class="t xl" id="x1000" style="left:308.00px;top:319.00px;">1000</div>
<div class="t xl" id="x800" style="left:380.00px;top:319.00px;">800</div>
<div class="t xl" id="x600" style="left:451.00px;top:319.00px;">600</div>
<div class="t xl" id="x400" style="left:523.30px;top:319.00px;">400</div>
<div class="t sl" id="la" style="left:39.50px;top:38.50px;">(a)</div>
<div class="t sl" id="lb" style="left:38.10px;top:96.90px;">(b)</div>
<div class="t sl" id="lc" style="left:39.20px;top:160.30px;">(c)</div>
<div class="t sl" id="ld" style="left:38.20px;top:218.00px;">(d)</div>
<div class="t sl" id="le" style="left:37.60px;top:286.10px;">(e)</div>
<div class="t gk" id="b1" style="left:220.60px;top:15.60px;color:#ff1a1a">β</div>
<div class="t gk" id="b2" style="left:379.00px;top:14.00px;color:#ff1a1a">β</div>
<div class="t gk" id="a1" style="left:406.50px;top:14.50px;color:#111">α</div>
<div class="t gk" id="a2" style="left:458.00px;top:14.50px;color:#111">α</div>
<div class="t ti" id="xt" style="left:219.00px;top:341.00px;">Wavenumbers [cm⁻¹]</div>
<div class="t ti yr" id="yt" style="left:6.50px;top:220.50px;">Absorbance [a.u.]</div>
</body></html>
